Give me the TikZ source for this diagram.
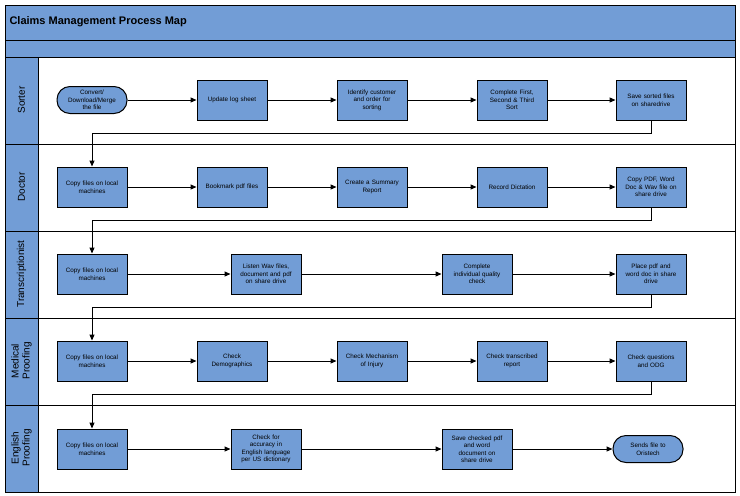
\documentclass[tikz,border=0pt]{standalone}
\usepackage{fontspec}
\setmainfont{Liberation Sans}
\usetikzlibrary{arrows.meta}
\definecolor{bl}{RGB}{114,157,214}
\begin{document}
\begin{tikzpicture}[x=1pt,y=-1pt,
 box/.style={draw=black,line width=1pt,fill=bl,minimum width=70pt,minimum height=40pt,align=center,font=\fontsize{6.3}{7.5}\selectfont,text width=66pt,inner sep=1pt},
 term/.style={box,rounded corners=13pt,minimum height=27pt},
 lane/.style={draw=black,line width=1pt},
 lbl/.style={rotate=90,font=\fontsize{10}{11}\selectfont,align=center},
 ar/.style={-{Triangle[length=6pt,width=5pt]},line width=1pt}]
\useasboundingbox (0,0) rectangle (740,496);
\fill[white] (0,0) rectangle (740,496);
\draw[lane,fill=bl] (5,5) rectangle (735,40);
\node[anchor=west,font=\bfseries\fontsize{11}{12}\selectfont] (title) at (6,22) {Claims Management Process Map};
\draw[lane,fill=bl] (5,40) rectangle (735,57);
\foreach \t/\b in {57/144,144/231,231/318,318/405,405/492}{
 \draw[lane] (5,\t) rectangle (735,\b);
 \draw[lane,fill=bl] (5,\t) rectangle (38,\b);}
\node[lbl] (l1) at (21.5,100) {Sorter};
\node[lbl] (l2) at (21.5,187) {Doctor};
\node[lbl] (l3) at (21.5,274) {Transcriptionist};
\node[lbl] (l4) at (21.5,361) {Medical\\Proofing};
\node[lbl] (l5) at (21.5,448) {English\\Proofing};
% Sorter
\node[term] (s1) at (92,100) {Convert/\\Download/Merge\\the file};
\node[box] (s2) at (232,100) {Update log sheet};
\node[box] (s3) at (372,100) {Identify customer\\and order for\\sorting};
\node[box] (s4) at (512,100) {Complete First,\\Second \& Third\\Sort};
\node[box] (s5) at (651,100) {Save sorted files\\on sharedrive};
% Doctor
\node[box] (d1) at (92,187) {Copy files on local\\machines};
\node[box] (d2) at (232,187) {Bookmark pdf files};
\node[box] (d3) at (372,187) {Create a Summary\\Report};
\node[box] (d4) at (512,187) {Record Dictation};
\node[box] (d5) at (651,187) {Copy PDF, Word\\Doc \& Wav file on\\share drive};
% Transcriptionist
\node[box] (t1) at (92,274) {Copy files on local\\machines};
\node[box] (t2) at (266,274) {Listen Wav files,\\document and pdf\\on share drive};
\node[box] (t3) at (477,274) {Complete\\individual quality\\check};
\node[box] (t4) at (651,274) {Place pdf and\\word doc in share\\drive};
% Medical
\node[box] (m1) at (92,361) {Copy files on local\\machines};
\node[box] (m2) at (232,361) {Check\\Demographics};
\node[box] (m3) at (372,361) {Check Mechanism\\of Injury};
\node[box] (m4) at (512,361) {Check transcribed\\report};
\node[box] (m5) at (651,361) {Check questions\\and ODG};
% English
\node[box] (e1) at (92,449) {Copy files on local\\machines};
\node[box] (e2) at (266,449) {Check for\\accuracy in\\English language\\per US dictionary};
\node[box] (e3) at (477,449) {Save checked pdf\\and word\\document on\\share drive};
\node[term] (e4) at (648,449) {Sends file to\\Oristech};
\foreach \a/\b in {s1/s2,s2/s3,s3/s4,s4/s5,d1/d2,d2/d3,d3/d4,d4/d5,t1/t2,t2/t3,t3/t4,m1/m2,m2/m3,m3/m4,m4/m5,e1/e2,e2/e3,e3/e4}
 \draw[ar] (\a) -- (\b);
\draw[ar] (s5.south) -- ++(0,13) -| (d1.north);
\draw[ar] (d5.south) -- ++(0,13) -| (t1.north);
\draw[ar] (t4.south) -- ++(0,13) -| (m1.north);
\draw[ar] (m5.south) -- ++(0,13) -| (e1.north);
\end{tikzpicture}
\end{document}
